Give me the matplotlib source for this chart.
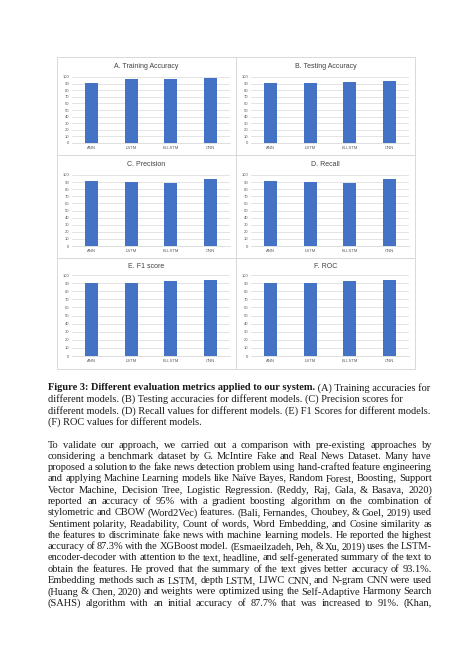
import matplotlib
matplotlib.use("Agg")
import matplotlib.pyplot as plt
from matplotlib.patches import Rectangle

# data
models = ["ANN", "LSTM", "Bi-LSTM", "CNN"]
titles = ["A. Training Accuracy", "B. Testing Accuracy", "C. Precision",
          "D. Recall", "E. F1 score", "F. ROC"]
train_acc = [90.5, 97.5, 97.3, 99.0]
test_acc = [91.0, 90.2, 92.0, 93.8]
precision = [91.7, 90.3, 88.8, 94.1]
recall = [91.3, 90.6, 88.7, 94.0]
f1_score = [90.6, 89.7, 92.3, 94.3]
roc = [90.6, 89.7, 92.5, 94.3]
series = [train_acc, test_acc, precision, recall, f1_score, roc]
yticks = list(range(0, 101, 10))

caption_bold = "Figure 3: Different evaluation metrics applied to our system."
caption_lines = [
    " (A) Training accuracies for",
    "different models. (B) Testing accuracies for different models. (C) Precision scores for",
    "different models. (D) Recall values for different models. (E) F1 Scores for different models.",
    "(F) ROC values for different models.",
]
para_lines = [
    "To validate our approach, we carried out a comparison with pre-existing approaches by",
    "considering a benchmark dataset by G. McIntire Fake and Real News Dataset. Many have",
    "proposed a solution to the fake news detection problem using hand-crafted feature engineering",
    "and applying Machine Learning models like Naïve Bayes, Random Forest, Boosting, Support",
    "Vector Machine, Decision Tree, Logistic Regression. (Reddy, Raj, Gala, & Basava, 2020)",
    "reported an accuracy of 95% with a gradient boosting algorithm on the combination of",
    "stylometric and CBOW (Word2Vec) features. (Bali, Fernandes, Choubey, & Goel, 2019) used",
    "Sentiment polarity, Readability, Count of words, Word Embedding, and Cosine similarity as",
    "the features to discriminate fake news with machine learning models. He reported the highest",
    "accuracy of 87.3% with the XGBoost model. (Esmaeilzadeh, Peh, & Xu, 2019) uses the LSTM-",
    "encoder-decoder with attention to the text, headline, and self-generated summary of the text to",
    "obtain the features. He proved that the summary of the text gives better accuracy of 93.1%.",
    "Embedding methods such as  LSTM, depth LSTM, LIWC CNN, and N-gram CNN were used",
    "(Huang & Chen, 2020) and weights were optimized using the Self-Adaptive Harmony Search",
    "(SAHS) algorithm with an initial accuracy of 87.7% that was increased to 91%. (Khan,",
]

W, H = 474, 670
fig = plt.figure(figsize=(W / 100, H / 100), dpi=100)
fig.patch.set_facecolor("white")


def fx(x):
    return x / W


def fy(y):
    return 1 - y / H


BLUE = "#4472C4"
GRID = "#d9d9d9"
TXT = "#595959"

# panel geometry in pixels (top-left origin)
panel_x = [(57, 236), (236, 415)]
plot_x = [(72, 230), (251, 409)]
rows = [  # box top, box bottom, y of 100, y of 0, title y
    (57, 155, 77, 143, 67),
    (155, 258, 175, 246, 165),
    (258, 369, 275, 356, 266),
]

for i, vals in enumerate(series):
    r, c = divmod(i, 2)
    top, bot, y100, y0, ty = rows[r]
    px0, px1 = panel_x[c]
    ax0, ax1 = plot_x[c]
    fig.patches.append(Rectangle((fx(px0), fy(bot)), fx(px1 - px0), (bot - top) / H,
                                 transform=fig.transFigure, fill=False,
                                 edgecolor=GRID, lw=0.7, zorder=0))
    ax = fig.add_axes([fx(ax0), fy(y0), fx(ax1 - ax0), (y0 - y100) / H])
    ax.bar(range(len(models)), vals, width=0.32, color=BLUE, zorder=3)
    ax.set_xlim(-0.5, len(models) - 0.5)
    ax.set_ylim(0, 100)
    ax.set_yticks(yticks)
    ax.set_xticks(range(len(models)))
    ax.set_xticklabels(models)
    ax.yaxis.grid(True, color=GRID, lw=0.5, zorder=0)
    ax.set_axisbelow(True)
    for s in ["top", "right", "left"]:
        ax.spines[s].set_visible(False)
    ax.spines["bottom"].set_color(GRID)
    ax.spines["bottom"].set_linewidth(0.6)
    ax.tick_params(length=0, labelsize=3, colors=TXT, pad=2)
    for lab in ax.get_xticklabels() + ax.get_yticklabels():
        lab.set_family("Liberation Sans")
    fig.text(fx((px0 + px1) / 2), fy(ty), titles[i], ha="center", va="center",
             fontsize=5, color="#404040", family="Liberation Sans")

# text below the figure, Times-like serif
FS = 7.5
LEFT, RIGHT = 48, 432
INK = "#1a1a1a"
renderer = fig.canvas.get_renderer()


def width_px(t):
    return t.get_window_extent(renderer).width


cap_y = [388, 399.3, 410.6, 421.9]
b = fig.text(fx(LEFT), fy(cap_y[0]), caption_bold, ha="left", va="center",
             fontsize=FS, weight="bold", family="Liberation Serif", color=INK)
bw = width_px(b)
fig.text(fx(LEFT + bw), fy(cap_y[0]), caption_lines[0], ha="left", va="center",
         fontsize=FS, family="Liberation Serif", color=INK)
for k, line in enumerate(caption_lines[1:], start=1):
    fig.text(fx(LEFT), fy(cap_y[k]), line, ha="left", va="center",
             fontsize=FS, family="Liberation Serif", color=INK)

# justified paragraph
y = 445
step = 11.3
for line in para_lines:
    words = line.split()
    objs = [fig.text(0, fy(y), w, ha="left", va="center", fontsize=FS,
                     family="Liberation Serif", color=INK) for w in words]
    widths = [width_px(o) for o in objs]
    gap = (RIGHT - LEFT - sum(widths)) / (len(words) - 1)
    x = LEFT
    for o, wdt in zip(objs, widths):
        o.set_x(fx(x))
        x += wdt + gap
    y += step

fig.savefig("out.png", dpi=100)
